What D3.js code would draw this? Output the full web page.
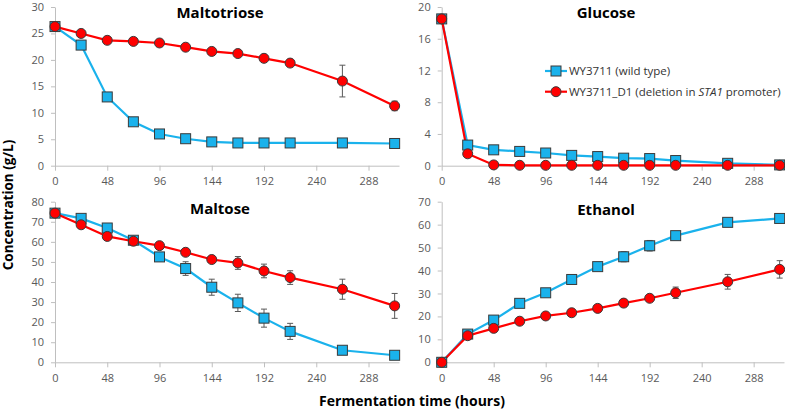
<!DOCTYPE html>
<html>
<head>
<meta charset="utf-8">
<script src="https://cdn.jsdelivr.net/npm/d3@7"></script>
<style>
  body { margin: 0; background: #fff; }
  svg text { font-family: "Open Sans", "Noto Sans", sans-serif; }
</style>
</head>
<body>
<svg id="chart" width="785" height="409"></svg>
<script>
// sampling times (hours)
const hours = [0, 24, 48, 72, 96, 120, 144, 168, 192, 216, 264, 312];
const xTicks = [0, 48, 96, 144, 192, 240, 288];

const seriesNames = ["WY3711 (wild type)", "WY3711_D1 (deletion in STA1 promoter)"];

// Maltotriose (g/L)
const maltotrioseWT = [26.3, 22.8, 13.0, 8.3, 6.0, 5.1, 4.5, 4.3, 4.3, 4.3, 4.3, 4.2];
const maltotrioseD1 = [26.3, 25.0, 23.7, 23.5, 23.2, 22.4, 21.6, 21.2, 20.3, 19.4, 16.0, 11.3];
const maltotrioseWTErr = [0, 0, 0, 0, 0, 0, 0, 0, 0, 0, 0, 0];
const maltotrioseD1Err = [0, 0, 0, 0, 0, 0, 0, 0, 0, 0, 3.0, 0.9];

// Glucose (g/L)
const glucoseWT = [18.5, 2.6, 2.0, 1.8, 1.6, 1.3, 1.15, 0.95, 0.9, 0.65, 0.3, 0.1];
const glucoseD1 = [18.5, 1.5, 0.1, 0.05, 0.05, 0.05, 0.05, 0.05, 0.05, 0.05, 0.05, 0.05];
const glucoseWTErr = [0, 0, 0, 0, 0, 0, 0, 0, 0, 0, 0, 0];
const glucoseD1Err = [0, 0, 0, 0, 0, 0, 0, 0, 0, 0, 0, 0];

// Maltose (g/L)
const maltoseWT = [74.3, 71.7, 66.9, 60.8, 52.5, 46.7, 37.4, 29.6, 22.0, 15.4, 6.0, 3.5];
const maltoseD1 = [74.3, 68.5, 62.7, 60.3, 58.1, 54.8, 51.2, 49.5, 45.5, 42.2, 36.4, 28.1];
const maltoseWTErr = [0, 0, 0, 0, 2.0, 3.4, 4.0, 4.3, 4.5, 4.0, 0, 0];
const maltoseD1Err = [0, 0, 0, 0, 0, 0, 0, 3.2, 3.4, 3.4, 5.0, 6.2];

// Ethanol (g/L)
const ethanolWT = [0, 12.3, 18.4, 25.7, 30.3, 36.1, 41.7, 46.0, 50.8, 55.2, 61.0, 62.7];
const ethanolD1 = [0, 11.6, 14.8, 17.9, 20.2, 21.6, 23.5, 25.8, 27.9, 30.3, 35.1, 40.5];
const ethanolWTErr = [0, 0, 0, 0, 0, 0, 1.5, 2.2, 2.3, 0, 0, 0];
const ethanolD1Err = [0, 0, 0, 0, 0, 0, 0, 0, 0, 2.5, 3.2, 3.8];

const BLUE = "#1AB2EC", RED = "#FF0000", EDGE = "#3a3a3a";
const svg = d3.select("#chart");

const panels = [
  {title: "Maltotriose", wt: maltotrioseWT, d1: maltotrioseD1, wtErr: maltotrioseWTErr, d1Err: maltotrioseD1Err,
   yMax: 30, yTicks: d3.range(0, 31, 5), x0: 55, x1: 399, yTop: 7, yBot: 165.7, tx: 220, ty: 18},
  {title: "Glucose", wt: glucoseWT, d1: glucoseD1, wtErr: glucoseWTErr, d1Err: glucoseD1Err,
   yMax: 20, yTicks: d3.range(0, 21, 4), x0: 441.7, x1: 784, yTop: 7, yBot: 165.7, tx: 606, ty: 18},
  {title: "Maltose", wt: maltoseWT, d1: maltoseD1, wtErr: maltoseWTErr, d1Err: maltoseD1Err,
   yMax: 80, yTicks: d3.range(0, 81, 10), x0: 55, x1: 399, yTop: 201.7, yBot: 362.3, tx: 220, ty: 214},
  {title: "Ethanol", wt: ethanolWT, d1: ethanolD1, wtErr: ethanolWTErr, d1Err: ethanolD1Err,
   yMax: 70, yTicks: d3.range(0, 71, 10), x0: 441.7, x1: 784, yTop: 201.7, yBot: 362.3, tx: 606, ty: 215}
];

panels.forEach(function(p) {
  let x = d3.scaleLinear().domain([0, 316]).range([p.x0, p.x1]);
  let y = d3.scaleLinear().domain([0, p.yMax]).range([p.yBot, p.yTop]);
  let g = svg.append("g");

  // axes
  let xAxis = g.append("g").attr("transform", "translate(0," + p.yBot + ")")
    .call(d3.axisBottom(x).tickValues(xTicks).tickSize(5).tickPadding(7).tickSizeOuter(0).tickFormat(d3.format("")));
  let yAxis = g.append("g").attr("transform", "translate(" + p.x0 + ",0)")
    .call(d3.axisLeft(y).tickValues(p.yTicks).tickSize(4).tickPadding(7).tickSizeOuter(0).tickFormat(d3.format("")));
  [xAxis, yAxis].forEach(function(a) {
    a.select(".domain").attr("stroke", "#bfbfbf");
    a.selectAll(".tick line").attr("stroke", "#bfbfbf");
    a.selectAll(".tick text").attr("fill", "#595959").style("font-size", "11px");
  });

  g.append("text").attr("x", p.tx).attr("y", p.ty).attr("text-anchor", "middle")
    .style("font-size", "15px").style("font-weight", "bold").attr("fill", "#000").text(p.title);

  let line = d3.line().x(function(d, i) { return x(hours[i]); }).y(function(d) { return y(d); });

  let series = [
    {vals: p.wt, err: p.wtErr, color: BLUE, shape: "square"},
    {vals: p.d1, err: p.d1Err, color: RED, shape: "circle"}
  ];

  series.forEach(function(s) {
    g.append("path").datum(s.vals).attr("d", line).attr("fill", "none")
      .attr("stroke", s.color).attr("stroke-width", 2.2);
  });

  series.forEach(function(s) {
    let eb = g.append("g").attr("stroke", "#595959").attr("stroke-width", 1);
    s.vals.forEach(function(v, i) {
      if (!s.err[i]) return;
      let cx = x(hours[i]), yl = y(v - s.err[i]), yh = y(v + s.err[i]);
      eb.append("line").attr("x1", cx).attr("x2", cx).attr("y1", yl).attr("y2", yh);
      eb.append("line").attr("x1", cx - 3).attr("x2", cx + 3).attr("y1", yl).attr("y2", yl);
      eb.append("line").attr("x1", cx - 3).attr("x2", cx + 3).attr("y1", yh).attr("y2", yh);
    });
  });

  series.forEach(function(s) {
    let m = g.append("g");
    if (s.shape === "square") {
      m.selectAll("rect").data(s.vals).enter().append("rect")
        .attr("x", function(d, i) { return x(hours[i]) - 5; })
        .attr("y", function(d) { return y(d) - 5; })
        .attr("width", 10).attr("height", 10)
        .attr("fill", s.color).attr("stroke", EDGE).attr("stroke-width", 1);
    } else {
      m.selectAll("circle").data(s.vals).enter().append("circle")
        .attr("cx", function(d, i) { return x(hours[i]); })
        .attr("cy", function(d) { return y(d); })
        .attr("r", 5).attr("fill", s.color).attr("stroke", EDGE).attr("stroke-width", 1);
    }
  });
});

// legend
const legend = svg.append("g");
[{name: seriesNames[0], color: BLUE, shape: "square", yy: 71},
 {name: seriesNames[1], color: RED, shape: "circle", yy: 91.7}].forEach(function(l) {
  legend.append("line").attr("x1", 545).attr("x2", 567).attr("y1", l.yy).attr("y2", l.yy)
    .attr("stroke", l.color).attr("stroke-width", 2.2);
  if (l.shape === "square") {
    legend.append("rect").attr("x", 551).attr("y", l.yy - 5).attr("width", 10).attr("height", 10)
      .attr("fill", l.color).attr("stroke", EDGE);
  } else {
    legend.append("circle").attr("cx", 556).attr("cy", l.yy).attr("r", 5)
      .attr("fill", l.color).attr("stroke", EDGE);
  }
  let t = legend.append("text").attr("x", 569).attr("y", l.yy + 4).style("font-size", "11.5px").attr("fill", "#333");
  let parts = l.name.split("STA1");
  t.append("tspan").text(parts[0]);
  if (parts.length > 1) {
    t.append("tspan").style("font-style", "italic").text("STA1");
    t.append("tspan").text(parts[1]);
  }
});

// shared axis titles
svg.append("text").attr("x", 412).attr("y", 406).attr("text-anchor", "middle")
  .style("font-size", "14px").style("font-weight", "bold").text("Fermentation time (hours)");
svg.append("text").attr("transform", "translate(13,205) rotate(-90)").attr("text-anchor", "middle")
  .style("font-size", "13.5px").style("font-weight", "bold").text("Concentration (g/L)");
</script>
</body>
</html>
